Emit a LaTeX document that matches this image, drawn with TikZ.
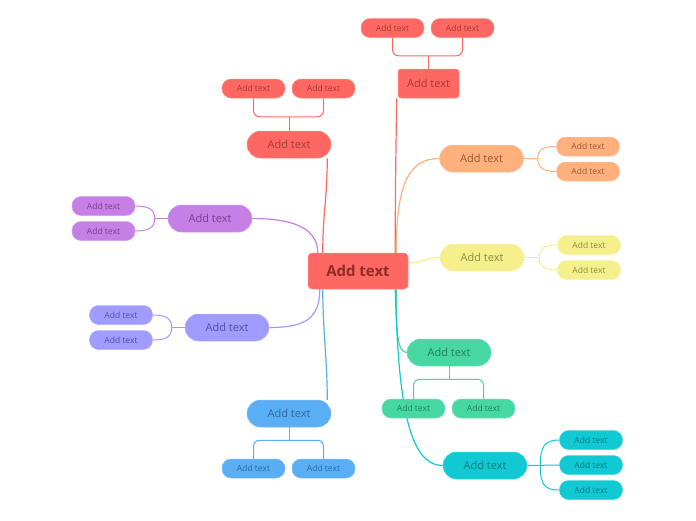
\documentclass[tikz,border=0pt]{standalone}
\usepackage{fontspec}
\setmainfont{Open Sans}
\usetikzlibrary{calc}
\pgfdeclarelayer{bg}
\pgfsetlayers{bg,main}
\definecolor{cRed}{HTML}{FF6762}
\definecolor{tRed}{HTML}{A33C37}
\definecolor{tCen}{HTML}{8E2C28}
\definecolor{cOra}{HTML}{FFB07C}
\definecolor{tOra}{HTML}{9C5A34}
\definecolor{cYel}{HTML}{F6F08C}
\definecolor{tYel}{HTML}{8E8A42}
\definecolor{cVio}{HTML}{C67FE4}
\definecolor{tVio}{HTML}{7B3F90}
\definecolor{cLav}{HTML}{A09BFE}
\definecolor{tLav}{HTML}{5650A0}
\definecolor{cBlu}{HTML}{59AEF6}
\definecolor{tBlu}{HTML}{2E6AA0}
\definecolor{cGre}{HTML}{47D7A2}
\definecolor{tGre}{HTML}{25805C}
\definecolor{cTea}{HTML}{10C9D3}
\definecolor{tTea}{HTML}{0B7A80}
\tikzset{
  topic/.style 2 args={fill=#1, draw=#1!75!white, line width=0.5pt, text=#2,
    rounded corners=13.5pt, minimum width=84pt, minimum height=27pt,
    inner sep=0pt, font=\fontsize{11}{13}\selectfont},
  sub/.style 2 args={fill=#1, draw=#1!75!white, line width=0.5pt, text=#2,
    rounded corners=9pt, minimum width=63pt, minimum height=19pt,
    inner sep=0pt, font=\fontsize{8.5}{10}\selectfont},
  centre/.style={fill=cRed, draw=cRed!75!white, line width=0.5pt, text=tCen,
    rounded corners=4pt, minimum width=100pt, minimum height=36pt, inner sep=0pt,
    font=\fontsize{15}{17}\selectfont\bfseries},
  boxtopic/.style 2 args={fill=#1, draw=#1!75!white, line width=0.5pt, text=#2,
    rounded corners=3pt, minimum width=61pt, minimum height=29pt, inner sep=0pt,
    font=\fontsize{11}{13}\selectfont},
  link/.style={draw=#1, line width=1.2pt},
  brace/.style={draw=#1, line width=1pt},
}
\begin{document}
\begin{tikzpicture}[x=1pt,y=-1pt]
\useasboundingbox (0,0) rectangle (696,520);
\begin{pgfonlayer}{bg}
\fill[white] (0,0) rectangle (696,520);
\end{pgfonlayer}

\node[centre] (c) at (358,271) {Add text};

% red top-right
\node[boxtopic={cRed}{tRed}] (tr) at (428.5,83.5) {Add text};
\node[sub={cRed}{tRed}] (tr1) at (392.5,28) {Add text};
\node[sub={cRed}{tRed}] (tr2) at (462.5,28) {Add text};

% red top-left
\node[topic={cRed}{tRed}] (tl) at (289,144.5) {Add text};
\node[sub={cRed}{tRed}] (tl1) at (253.5,88.5) {Add text};
\node[sub={cRed}{tRed}] (tl2) at (323.5,88.5) {Add text};

% orange
\node[topic={cOra}{tOra}] (o) at (481.5,158.5) {Add text};
\node[sub={cOra}{tOra}] (o1) at (588,146.5) {Add text};
\node[sub={cOra}{tOra}] (o2) at (588,171.5) {Add text};

% yellow
\node[topic={cYel}{tYel}] (y) at (482,257.5) {Add text};
\node[sub={cYel}{tYel}] (y1) at (589,245) {Add text};
\node[sub={cYel}{tYel}] (y2) at (589,270) {Add text};

% violet
\node[topic={cVio}{tVio}] (v) at (210,218.5) {Add text};
\node[sub={cVio}{tVio}] (v1) at (103.5,206) {Add text};
\node[sub={cVio}{tVio}] (v2) at (103.5,231) {Add text};

% lavender
\node[topic={cLav}{tLav}] (l) at (227,327.5) {Add text};
\node[sub={cLav}{tLav}] (l1) at (121,315) {Add text};
\node[sub={cLav}{tLav}] (l2) at (121,340) {Add text};

% blue
\node[topic={cBlu}{tBlu}] (b) at (289,413.5) {Add text};
\node[sub={cBlu}{tBlu}] (b1) at (253.5,468.5) {Add text};
\node[sub={cBlu}{tBlu}] (b2) at (323.5,468.5) {Add text};

% green
\node[topic={cGre}{tGre}] (g) at (449,352.5) {Add text};
\node[sub={cGre}{tGre}] (g1) at (413.5,408.5) {Add text};
\node[sub={cGre}{tGre}] (g2) at (483.5,408.5) {Add text};

% teal
\node[topic={cTea}{tTea}] (t) at (485,465.5) {Add text};
\node[sub={cTea}{tTea}] (t1) at (591,440) {Add text};
\node[sub={cTea}{tTea}] (t2) at (591,465) {Add text};
\node[sub={cTea}{tTea}] (t3) at (591,490) {Add text};

\begin{pgfonlayer}{bg}
% center to topics
\draw[link=cRed] ($(c.north east)+(-13,0)$) .. controls +(0,-60) and +(-1,60) .. ($(tr.south west)+(-1,0)$);
\draw[link=cRed] ($(c.north west)+(15,0)$) .. controls +(0,-40) and +(0,40) .. ($(tl.south east)+(-4,0)$);
\draw[link=cOra] ($(c.north east)+(-12,0)$) .. controls +(0,-70) and +(-30,0) .. (o.west);
\draw[link=cYel] ($(c.east)+(0,-8)$) .. controls +(15,0) and +(-15,0) .. (y.west);
\draw[link=cVio] (v.east) .. controls +(40,0) and +(0,-25) .. ($(c.north west)+(10,0)$);
\draw[link=cLav] (l.east) .. controls +(35,0) and +(0,30) .. ($(c.south west)+(12,0)$);
\draw[link=cBlu] ($(c.south west)+(15,0)$) .. controls +(0,40) and +(0,-40) .. ($(b.north east)+(-4,0)$);
\draw[link=cGre] ($(c.south east)+(-12,0)$) .. controls +(0,40) and +(-10,0) .. (g.west);
\draw[link=cTea] ($(c.south east)+(-13,0)$) .. controls +(3,110) and +(-35,0) .. (t.west);

% trees (vertical)
\draw[brace=cRed, rounded corners=6pt] (tr1.south) |- ($(tr.north)+(0,-13)$) -| (tr2.south);
\draw[brace=cRed] (tr.north) -- ++(0,-13);
\draw[brace=cRed, rounded corners=6pt] (tl1.south) |- ($(tl.north)+(0,-14)$) -| (tl2.south);
\draw[brace=cRed] (tl.north) -- ++(0,-14);
\draw[brace=cBlu, rounded corners=6pt] (b1.north) |- ($(b.south)+(0,13)$) -| (b2.north);
\draw[brace=cBlu] (b.south) -- ++(0,13);
\draw[brace=cGre, rounded corners=6pt] (g1.north) |- ($(g.south)+(0,13)$) -| (g2.north);
\draw[brace=cGre] (g.south) -- ++(0,13);

% side braces
\coordinate (oj) at ($(o.east)+(14,0)$);
\draw[brace=cOra] (o.east) -- (oj);
\draw[brace=cOra] (oj) .. controls +(0,-10) and +(-12,0) .. (o1.west);
\draw[brace=cOra] (oj) .. controls +(0,10) and +(-12,0) .. (o2.west);

\coordinate (yj) at ($(y.east)+(15,0)$);
\draw[brace=cYel] (y.east) -- (yj);
\draw[brace=cYel] (yj) .. controls +(0,-10) and +(-12,0) .. (y1.west);
\draw[brace=cYel] (yj) .. controls +(0,10) and +(-12,0) .. (y2.west);

\coordinate (vj) at ($(v.west)+(-13,0)$);
\draw[brace=cVio] (v.west) -- (vj);
\draw[brace=cVio] (vj) .. controls +(0,-10) and +(12,0) .. (v1.east);
\draw[brace=cVio] (vj) .. controls +(0,10) and +(12,0) .. (v2.east);

\coordinate (lj) at ($(l.west)+(-13,0)$);
\draw[brace=cLav] (l.west) -- (lj);
\draw[brace=cLav] (lj) .. controls +(0,-10) and +(12,0) .. (l1.east);
\draw[brace=cLav] (lj) .. controls +(0,10) and +(12,0) .. (l2.east);

\coordinate (tj) at ($(t.east)+(13,0)$);
\draw[brace=cTea] (t.east) -- (t2.west);
\draw[brace=cTea] (tj) .. controls +(0,-20) and +(-14,0) .. (t1.west);
\draw[brace=cTea] (tj) .. controls +(0,20) and +(-14,0) .. (t3.west);
\end{pgfonlayer}
\end{tikzpicture}
\end{document}
